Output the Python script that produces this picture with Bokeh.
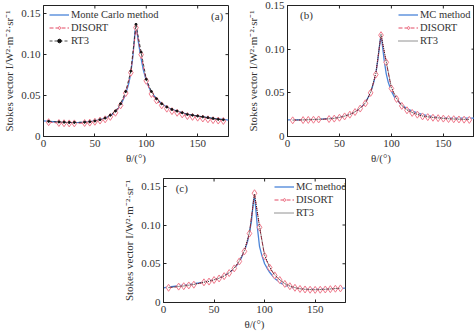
import math
from bokeh.plotting import figure
from bokeh.layouts import column, row
from bokeh.models import (Spacer, FixedTicker, Label, Range1d)
from bokeh.embed import file_html
from bokeh.resources import INLINE

FONT = "Liberation Serif"

# ---------------- data ----------------
mc_x = [0, 5, 10, 15, 20, 25, 30, 35, 40, 45, 50, 55, 60, 65, 70, 75, 80, 83, 85, 87,
        88, 89, 90, 91, 92, 93, 95, 97, 100, 103, 105, 110, 115, 120, 125, 130, 135,
        140, 145, 150, 155, 160, 165, 170, 175, 180]
pt_x = [5, 15, 20, 25, 30, 40, 45, 50, 55, 60, 65, 70, 75, 80, 85, 90, 95, 100, 105,
        110, 115, 120, 125, 130, 135, 140, 145, 150, 155, 160, 165, 170, 175]

mc_a = [0.0190, 0.0185, 0.0180, 0.0175, 0.0172, 0.0170, 0.0170, 0.0172, 0.0175, 0.0180,
        0.0190, 0.0205, 0.0225, 0.0255, 0.0300, 0.0380, 0.0520, 0.065, 0.078, 0.098,
        0.112, 0.128, 0.135, 0.128, 0.118, 0.110, 0.095, 0.082, 0.068, 0.059, 0.054,
        0.046, 0.040, 0.036, 0.033, 0.031, 0.029, 0.027, 0.026, 0.025, 0.024, 0.023,
        0.0222, 0.0215, 0.0208, 0.0200]
disort_a = [0.0175, 0.0165, 0.0162, 0.0160, 0.0160, 0.0165, 0.0170, 0.0180, 0.0195, 0.0210,
            0.0240, 0.0290, 0.0380, 0.0530, 0.0780, 0.1330, 0.1000, 0.0680, 0.0520, 0.0440,
            0.0380, 0.0340, 0.0310, 0.0290, 0.0270, 0.0250, 0.0240, 0.0230, 0.0220, 0.0210,
            0.0200, 0.0195, 0.0190]
rt3_a = [0.0185, 0.0178, 0.0175, 0.0172, 0.0172, 0.0175, 0.0180, 0.0190, 0.0205, 0.0225,
         0.0260, 0.0310, 0.0400, 0.0550, 0.0800, 0.1370, 0.1030, 0.0700, 0.0550, 0.0460,
         0.0400, 0.0360, 0.0330, 0.0310, 0.0290, 0.0270, 0.0260, 0.0250, 0.0240, 0.0230,
         0.0220, 0.0210, 0.0205]

mc_b = [0.0190, 0.0190, 0.0190, 0.0192, 0.0194, 0.0196, 0.0198, 0.0202, 0.0207, 0.0213,
        0.0222, 0.0235, 0.0252, 0.0280, 0.0320, 0.0390, 0.0500, 0.062, 0.072, 0.088,
        0.098, 0.108, 0.116, 0.108, 0.098, 0.088, 0.072, 0.062, 0.052, 0.045, 0.042,
        0.036, 0.032, 0.029, 0.027, 0.025, 0.0238, 0.0228, 0.0220, 0.0215, 0.0212,
        0.0210, 0.0210, 0.0210, 0.0210, 0.0210]
disort_b = [0.0185, 0.0188, 0.0190, 0.0192, 0.0195, 0.0200, 0.0205, 0.0215, 0.0230, 0.0250,
            0.0280, 0.0320, 0.0380, 0.0500, 0.0710, 0.1160, 0.0850, 0.0550, 0.0430, 0.0350,
            0.0300, 0.0270, 0.0250, 0.0230, 0.0222, 0.0215, 0.0210, 0.0205, 0.0200, 0.0198,
            0.0195, 0.0193, 0.0190]
rt3_b = [0.0188, 0.0190, 0.0192, 0.0194, 0.0197, 0.0202, 0.0208, 0.0218, 0.0233, 0.0253,
         0.0283, 0.0325, 0.0385, 0.0505, 0.0720, 0.1170, 0.0860, 0.0560, 0.0437, 0.0355,
         0.0305, 0.0275, 0.0253, 0.0235, 0.0225, 0.0218, 0.0213, 0.0208, 0.0203, 0.0200,
         0.0198, 0.0196, 0.0194]

mc_c = [0.0190, 0.0200, 0.0208, 0.0216, 0.0224, 0.0232, 0.0242, 0.0252, 0.0264, 0.0278,
        0.0295, 0.0315, 0.0345, 0.0385, 0.0440, 0.0520, 0.0660, 0.078, 0.090, 0.105,
        0.118, 0.132, 0.135, 0.125, 0.110, 0.095, 0.072, 0.062, 0.050, 0.043, 0.039,
        0.031, 0.026, 0.022, 0.020, 0.0185, 0.0178, 0.0174, 0.0172, 0.0172, 0.0173,
        0.0175, 0.0177, 0.0180, 0.0182, 0.0185]
disort_c = [0.0190, 0.0205, 0.0210, 0.0220, 0.0230, 0.0260, 0.0270, 0.0290, 0.0310, 0.0340,
            0.0380, 0.0440, 0.0530, 0.0660, 0.0890, 0.1410, 0.0970, 0.0600, 0.0450, 0.0350,
            0.0290, 0.0240, 0.0210, 0.0190, 0.0175, 0.0168, 0.0165, 0.0163, 0.0165, 0.0168,
            0.0172, 0.0178, 0.0182]
rt3_c = [0.0192, 0.0207, 0.0213, 0.0223, 0.0233, 0.0262, 0.0273, 0.0293, 0.0313, 0.0343,
         0.0385, 0.0445, 0.0535, 0.0670, 0.0900, 0.1400, 0.0980, 0.0610, 0.0455, 0.0355,
         0.0293, 0.0243, 0.0212, 0.0192, 0.0177, 0.0170, 0.0167, 0.0165, 0.0167, 0.0170,
         0.0174, 0.0180, 0.0184]

x_ticks = [0, 50, 100, 150]
y_ticks = [0, 0.05, 0.10, 0.15]
y_tick_labels = {0: "0", 0.05: "0.05", 0.1: "0.10", 0.15: "0.15"}

BLUE = "#4a84d8"
RED = "#e24a64"
PINK = "#f07a8c"
INK = "#222222"


def make_panel(width, height, left, right, top, bottom, ymax, mc, dis, rt, rt_dots,
               names, tag, tag_xy, legend_loc):
    p = figure(width=width, height=height, output_backend="svg", toolbar_location=None,
               x_range=Range1d(0, 180), y_range=Range1d(0, ymax),
               min_border_left=left, min_border_right=right,
               min_border_top=top, min_border_bottom=bottom,
               background_fill_color="white", border_fill_color="white")
    p.xgrid.visible = False
    p.ygrid.visible = False
    p.outline_line_color = INK
    p.outline_line_width = 1

    p.line(mc_x, mc, color=BLUE, line_width=1.3, legend_label=names[0])
    p.line(pt_x, dis, color=RED, line_width=1, line_dash="4 2", legend_label=names[1])
    p.scatter(pt_x, dis, marker="diamond", size=7, line_color=PINK, fill_color="white",
              line_width=1, legend_label=names[1])
    if rt_dots:
        p.line(pt_x, rt, color=INK, line_width=0.8, line_dash="3 2",
               legend_label=names[2])
        p.scatter(pt_x, rt, marker="circle", size=2, color="#111111",
                  legend_label=names[2])
    else:
        p.line(pt_x, rt, color="#111111", line_width=0.9, line_dash="1 1",
               legend_label=names[2])

    # mirrored tick marks on top and right edges (box style); half is clipped by the frame
    p.scatter(x_ticks, [ymax] * len(x_ticks), marker="dash", angle=math.pi / 2, size=6,
              line_color=INK, line_width=1)
    p.scatter([180] * len(y_ticks), y_ticks, marker="dash", size=6,
              line_color=INK, line_width=1)

    for ax in (p.xaxis[0], p.yaxis[0]):
        ax.major_tick_in = 3
        ax.major_tick_out = 0
        ax.minor_tick_in = 0
        ax.minor_tick_out = 0
        ax.axis_line_color = INK
        ax.major_tick_line_color = INK
        ax.major_label_text_font = FONT
        ax.major_label_text_font_size = "11px"
        ax.major_label_text_color = "#333333"
        ax.axis_label_text_font = FONT
        ax.axis_label_text_font_size = "11px"
        ax.axis_label_text_font_style = "normal"
        ax.axis_label_text_color = "#333333"
    p.xaxis.ticker = FixedTicker(ticks=x_ticks)
    p.yaxis.ticker = FixedTicker(ticks=y_ticks)
    p.yaxis.major_label_overrides = y_tick_labels
    p.xaxis.axis_label = "θ/(°)"
    p.xaxis.axis_label_standoff = 2
    p.xaxis.major_label_standoff = 3
    p.yaxis.axis_label = "Stokes vector I/W²·m⁻²·sr⁻¹"
    p.yaxis.axis_label_standoff = 3
    p.yaxis.major_label_standoff = 3

    p.legend.location = legend_loc
    p.legend.border_line_color = None
    p.legend.background_fill_alpha = 0
    p.legend.label_text_font = FONT
    p.legend.label_text_font_size = "10.5px"
    p.legend.label_text_color = "#333333"
    p.legend.label_height = 9
    p.legend.glyph_height = 9
    p.legend.glyph_width = 20
    p.legend.label_standoff = 2
    p.legend.spacing = 2
    p.legend.padding = 2
    p.legend.margin = 0

    p.add_layout(Label(x=tag_xy[0], y=tag_xy[1], text=tag, text_font=FONT,
                       text_font_size="11px", text_color="#333333",
                       text_baseline="middle"))
    return p


pa = make_panel(237, 166, 42, 9, 5, 29, 0.16, mc_a, disort_a, rt3_a, True,
                ["Monte Carlo method", "DISORT", "RT3"], "(a)", (163, 0.1475), (6, 90))
pb = make_panel(237, 166, 50, 0, 5, 29, 0.15, mc_b, disort_b, rt3_b, False,
                ["MC method", "DISORT", "RT3"], "(b)", (12, 0.139), (111, 90))
pc = make_panel(246, 166, 42, 21, 12, 25, 0.16, mc_c, disort_c, rt3_c, False,
                ["MC method", "DISORT", "RT3"], "(c)", (12, 0.1475), (111, 84))

layout = column(row(pa, pb), row(Spacer(width=120, height=166), pc))

open("out.html", "w").write(file_html(layout, INLINE))
